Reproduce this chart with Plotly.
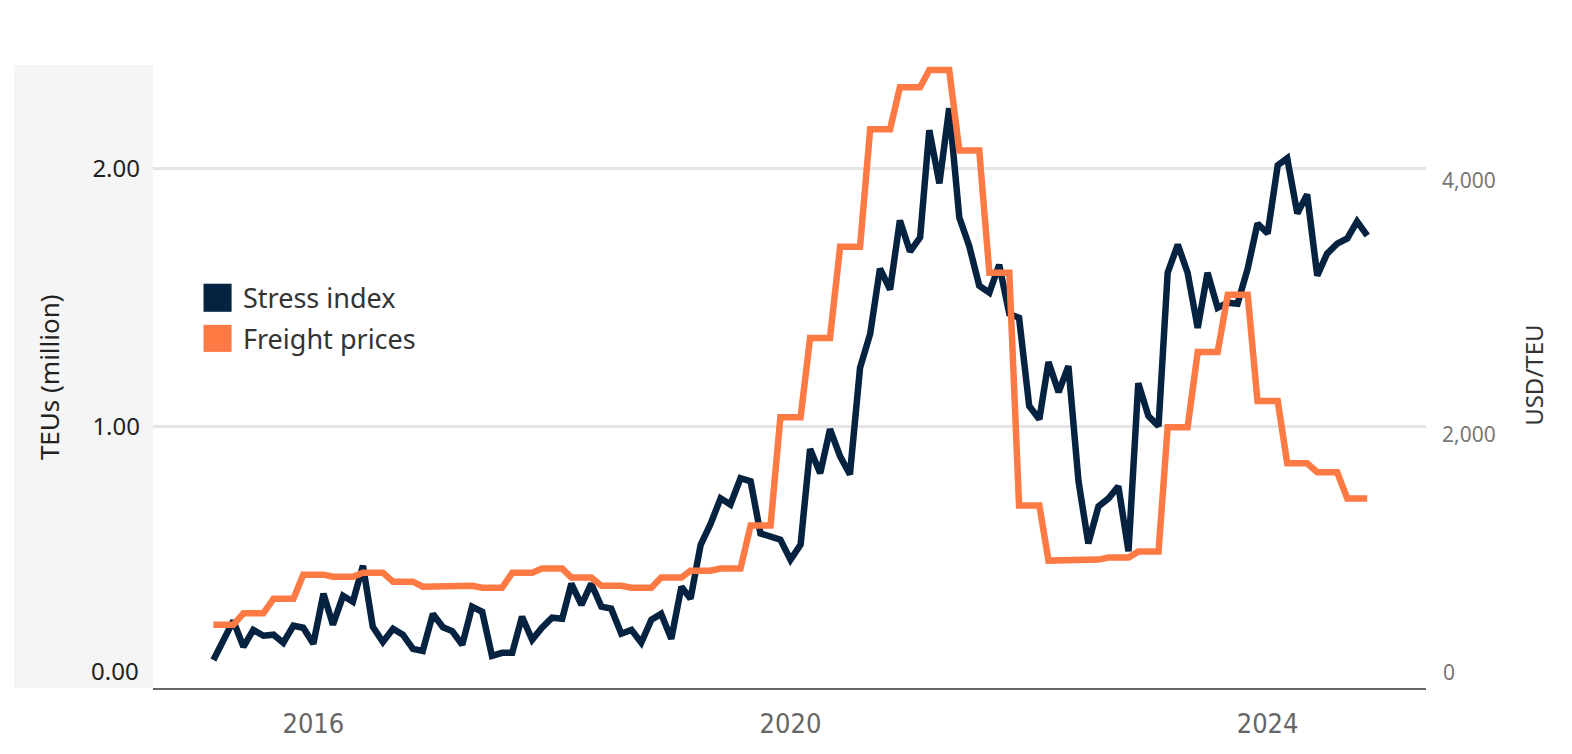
import pandas as pd
import plotly.graph_objects as go

# ---- data (monthly, Mar 2015 - Nov 2024) ----
START_MONTH = "2015-03-01"
N_MONTHS = 117

STRESS_INDEX = [
    # 2015 Mar-Dec
    0.093, 0.171, 0.245, 0.144, 0.210, 0.187, 0.191, 0.160, 0.226, 0.218,
    # 2016
    0.156, 0.350, 0.230, 0.342, 0.319, 0.459, 0.222, 0.163, 0.214, 0.191, 0.136, 0.128,
    # 2017
    0.272, 0.220, 0.205, 0.152, 0.300, 0.280, 0.109, 0.121, 0.121, 0.261, 0.171, 0.218,
    # 2018
    0.257, 0.253, 0.389, 0.307, 0.389, 0.300, 0.292, 0.195, 0.210, 0.160, 0.249, 0.272,
    # 2019
    0.175, 0.377, 0.331, 0.540, 0.620, 0.720, 0.696, 0.798, 0.786, 0.584, 0.572, 0.560,
    # 2020
    0.482, 0.541, 0.911, 0.817, 0.988, 0.883, 0.813, 1.226, 1.358, 1.611, 1.530, 1.798,
    # 2021
    1.677, 1.732, 2.148, 1.942, 2.233, 1.809, 1.700, 1.545, 1.518, 1.626, 1.436, 1.420,
    # 2022
    1.078, 1.027, 1.249, 1.132, 1.233, 0.786, 0.545, 0.689, 0.720, 0.767, 0.515, 1.167,
    # 2023
    1.039, 1.000, 1.595, 1.704, 1.595, 1.381, 1.595, 1.459, 1.479, 1.475, 1.611, 1.786,
    # 2024 Jan-Nov
    1.747, 2.012, 2.039, 1.825, 1.899, 1.584, 1.669, 1.708, 1.728, 1.794, 1.739,
]

# Freight prices (USD/TEU), one value per 3-month period starting Mar 2015
FREIGHT_QUARTERLY = [
    498, 589, 704, 893, 877, 909, 838, 798, 806, 790,
    909, 941, 870, 806, 790, 870, 925, 941, 1281, 2134,
    2759, 3478, 4403, 4735, 4870, 4237, 3273, 1439, 1004, 1012,
    1028, 1075, 2055, 2648, 3099, 2261, 1771, 1700, 1494,
]

X_TICKS = ["2016-01-01", "2020-01-01", "2024-01-01"]
X_TICK_LABELS = ["2016", "2020", "2024"]
Y_TICKS = [1, 2]
Y_TICK_LABELS = ["1.00", "2.00"]
Y2_TICKS = [2000, 4000]
Y2_TICK_LABELS = ["2,000", "4,000"]

SERIES_NAMES = ["Stress index", "Freight prices"]

dates = pd.date_range(START_MONTH, periods=N_MONTHS, freq="MS")
freight_monthly = [v for v in FREIGHT_QUARTERLY for _ in range(3)][:N_MONTHS]

NAVY = "#062241"
ORANGE = "#fe7a45"
TICK_FONT = "Noto Sans, Open Sans, DejaVu Sans, sans-serif"
NARROW_FONT = "Liberation Sans Narrow, DejaVu Sans Condensed, Arial Narrow, sans-serif"

fig = go.Figure()
fig.add_trace(go.Scatter(
    x=dates, y=freight_monthly, yaxis="y2", mode="lines",
    name=SERIES_NAMES[1], line=dict(color=ORANGE, width=6.5), showlegend=False,
))
fig.add_trace(go.Scatter(
    x=dates, y=STRESS_INDEX, mode="lines",
    name=SERIES_NAMES[0], line=dict(color=NAVY, width=6.5), showlegend=False,
))

OFF = 8                 # page body margin
S = 1572 / 1568         # layout measured on a slightly shrunk view
W, H = 1572 - OFF, 754 - OFF
L = round(153 * S) - OFF
R = round(1422 * S) - OFF
T = round(65 * S) - OFF
B = round(686 * S) - OFF
pw, ph = R - L, B - T


def px(xv):
    return (xv * S - OFF - L) / pw


def py(yv):
    return (B - (yv * S - OFF)) / ph


shapes = [
    dict(type="rect", xref="paper", yref="paper", x0=px(14), x1=0, y0=0, y1=1,
         fillcolor="#f5f5f5", line=dict(width=0), layer="below"),
    dict(type="rect", xref="paper", yref="paper", x0=px(203), x1=px(231),
         y0=py(311), y1=py(283), fillcolor=NAVY, line=dict(width=0)),
    dict(type="rect", xref="paper", yref="paper", x0=px(203), x1=px(231),
         y0=py(351), y1=py(324), fillcolor=ORANGE, line=dict(width=0)),
]

annotations = [
    dict(text=SERIES_NAMES[0], xref="paper", yref="paper", x=px(240), y=py(297),
         xanchor="left", yanchor="middle", showarrow=False,
         font=dict(family=TICK_FONT, size=27, color="#333333")),
    dict(text=SERIES_NAMES[1], xref="paper", yref="paper", x=px(240), y=py(338),
         xanchor="left", yanchor="middle", showarrow=False,
         font=dict(family=TICK_FONT, size=27, color="#333333")),
    dict(text="0.00", xref="paper", yref="paper", x=0, xshift=-12, y=py(669),
         xanchor="right", yanchor="middle", showarrow=False,
         font=dict(family=TICK_FONT, size=24, color="#222222")),
    dict(text="0", xref="paper", yref="paper", x=1, xshift=15, y=py(670),
         xanchor="left", yanchor="middle", showarrow=False,
         font=dict(family=TICK_FONT, size=21, color="#777777")),
    dict(text="TEUs (million)", xref="paper", yref="paper", x=px(49), y=py(376),
         xanchor="center", yanchor="middle", textangle=-90, showarrow=False,
         font=dict(family=TICK_FONT, size=26, color="#222222")),
    dict(text="USD/TEU", xref="paper", yref="paper", x=px(1530), y=py(374),
         xanchor="center", yanchor="middle", textangle=-90, showarrow=False,
         font=dict(family=TICK_FONT, size=24, color="#333333")),
]

fig.update_layout(
    width=W, height=H,
    margin=dict(l=L, r=W - R, t=T, b=H - B, pad=0),
    paper_bgcolor="white", plot_bgcolor="white",
    showlegend=False,
    shapes=shapes, annotations=annotations,
    xaxis=dict(
        type="date", range=["2014-08-28", "2025-04-30"],
        tickvals=X_TICKS, ticktext=X_TICK_LABELS,
        showgrid=False, zeroline=False, showline=True,
        linecolor="#666666", linewidth=2, ticks="",
        tickfont=dict(family=NARROW_FONT, size=27, color="#666666"),
        ticklabelstandoff=11,
    ),
    yaxis=dict(
        range=[-0.0156, 2.4008],
        tickvals=Y_TICKS, ticktext=Y_TICK_LABELS,
        showgrid=True, gridcolor="#e5e5e5", gridwidth=3,
        zeroline=False, showline=False, ticks="",
        tickfont=dict(family=TICK_FONT, size=24, color="#222222"),
        ticklabelstandoff=12,
    ),
    yaxis2=dict(
        range=[0, 4910], overlaying="y", side="right",
        tickvals=Y2_TICKS, ticktext=Y2_TICK_LABELS,
        showgrid=False, zeroline=False, showline=False, ticks="",
        tickfont=dict(family=TICK_FONT, size=21, color="#777777"),
        ticklabelstandoff=15,
    ),
)

fig.write_html("out.html")
